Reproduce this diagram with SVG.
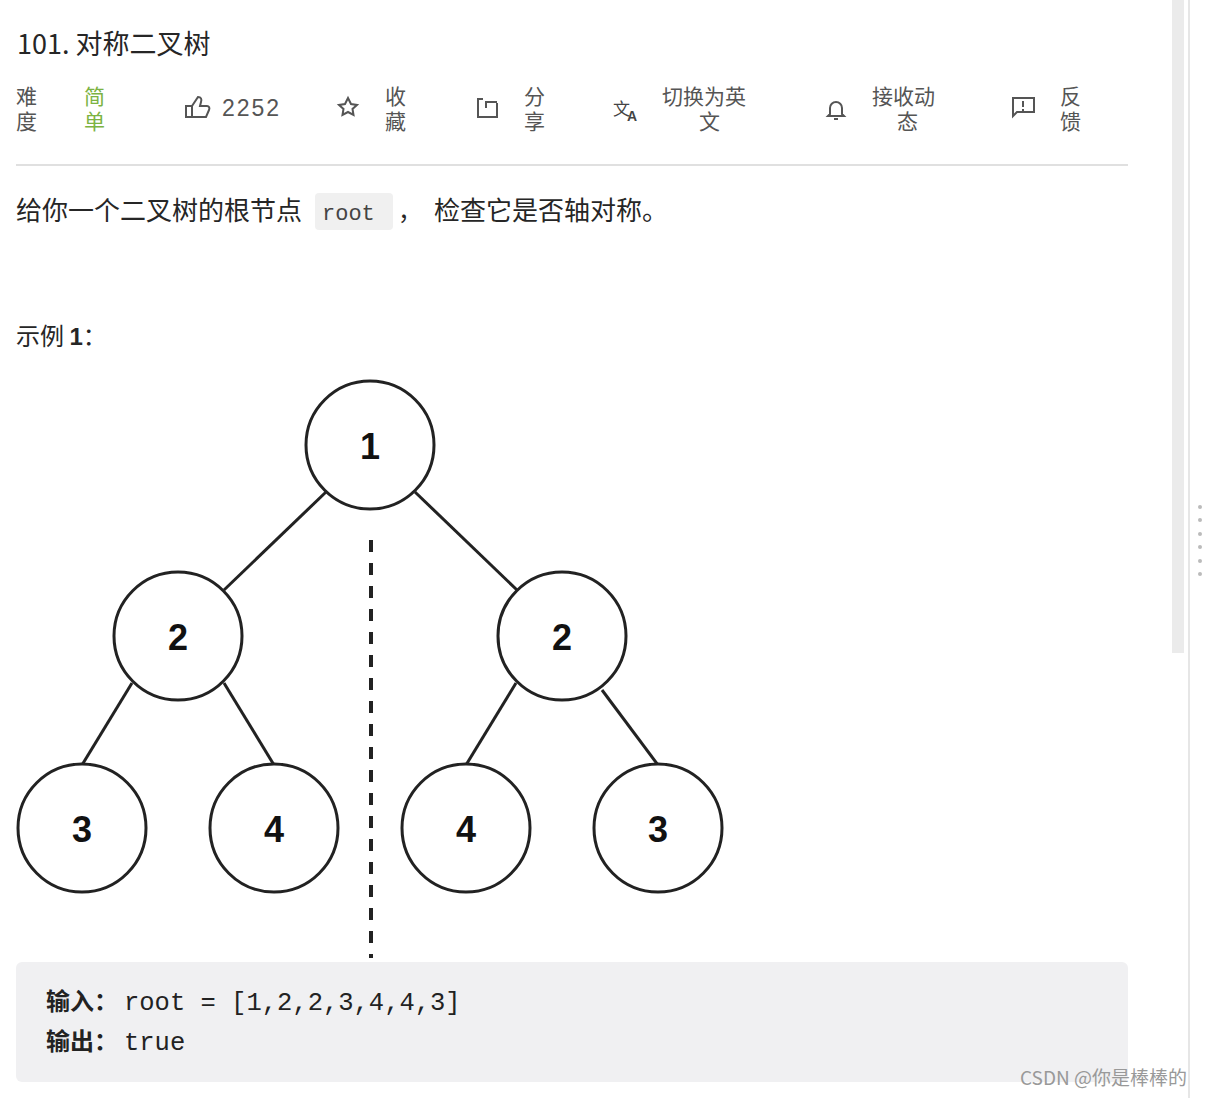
<svg xmlns="http://www.w3.org/2000/svg" width="1206" height="1098" viewBox="0 0 1206 1098">
<style>
.ui{font-family:"Noto Sans CJK SC","Liberation Sans",sans-serif;fill:#555;font-size:21px}
.n circle{fill:#fff;stroke:#222;stroke-width:3}
.n text{font-family:"Liberation Sans",sans-serif;font-weight:bold;font-size:36px;fill:#111;text-anchor:middle}
.ic{fill:none;stroke:#555;stroke-width:2}
.mono{font-family:"Liberation Mono",monospace;font-size:25.5px;fill:#222}
</style>
<rect width="1206" height="1098" fill="#fff"/>
<rect x="1172" y="0" width="12" height="653" fill="#ebebeb"/>
<line x1="1189" y1="0" x2="1189" y2="1098" stroke="#e6e6e6" stroke-width="2"/>
<g fill="#bbb"><circle cx="1200" cy="507" r="2"/><circle cx="1200" cy="520" r="2"/><circle cx="1200" cy="534" r="2"/><circle cx="1200" cy="547" r="2"/><circle cx="1200" cy="561" r="2"/><circle cx="1200" cy="574" r="2"/></g>
<text x="17" y="54" font-family="Noto Sans CJK SC,sans-serif" font-size="27" fill="#262626">101. 对称二叉树</text>
<text class="ui" x="16" y="104">难</text><text class="ui" x="16" y="129">度</text>
<text class="ui" x="84" y="104" style="fill:#7cb342">简</text><text class="ui" x="84" y="129" style="fill:#7cb342">单</text>
<path class="ic" d="M186 117h6v-11h-6zM192 106l6-9c3 0 4 2 3 5l-1 4h7c2 0 3 2 2 4l-3 7h-14"/>
<text x="222" y="116" font-family="Liberation Sans,sans-serif" font-size="23" fill="#555" letter-spacing="2">2252</text>
<path class="ic" d="M348 98l3 6 6 1-4.5 4 1 6-5.5-3-5.5 3 1-6-4.5-4 6-1z"/>
<text class="ui" x="385" y="104">收</text><text class="ui" x="385" y="129">藏</text>
<path class="ic" d="M483 99h-5v18h19v-14M486 108v-6h11"/>
<text class="ui" x="524" y="104">分</text><text class="ui" x="524" y="129">享</text>
<text x="613" y="115" font-family="Noto Sans CJK SC,sans-serif" font-size="17" fill="#444">文</text>
<text x="627" y="121" font-family="Liberation Sans,sans-serif" font-weight="bold" font-size="14" fill="#444">A</text>
<text class="ui" x="662" y="104">切换为英</text><text class="ui" x="699" y="129">文</text>
<path class="ic" d="M830 114v-6a6 6 0 0 1 12 0v6l2 2h-16zM834 119h4"/>
<text class="ui" x="872" y="104">接收动</text><text class="ui" x="897" y="129">态</text>
<path class="ic" d="M1013 98h21v14h-17l-4 4z"/><path d="M1023 101v6M1023 109v2" stroke="#555" stroke-width="2"/>
<text class="ui" x="1060" y="104">反</text><text class="ui" x="1060" y="129">馈</text>
<line x1="16" y1="165" x2="1128" y2="165" stroke="#e0e0e0" stroke-width="2"/>
<text x="16" y="220" font-family="Noto Sans CJK SC,sans-serif" font-size="26" fill="#262626">给你一个二叉树的根节点</text>
<rect x="315" y="193" width="78" height="37" rx="4" fill="#f0f0f0"/>
<text x="322" y="220" font-family="Liberation Mono,monospace" font-size="22" fill="#444">root</text>
<text x="398" y="220" font-family="Noto Sans CJK SC,sans-serif" font-size="24" fill="#262626">，</text>
<text x="434" y="220" font-family="Noto Sans CJK SC,sans-serif" font-size="26" fill="#262626">检查它是否轴对称。</text>
<text x="16" y="345" font-family="Noto Sans CJK SC,sans-serif" font-size="24" fill="#262626">示例 <tspan font-weight="bold" font-family="Liberation Sans,sans-serif">1</tspan>：</text>
<g id="edges" stroke="#222" stroke-width="3">
<line x1="326" y1="492" x2="224" y2="590"/><line x1="415" y1="492" x2="517" y2="590"/>
<line x1="132" y1="683" x2="82" y2="765"/><line x1="224" y1="683" x2="274" y2="765"/>
<line x1="516" y1="683" x2="466" y2="765"/><line x1="602" y1="690" x2="658" y2="765"/>
<line x1="371" y1="540" x2="371" y2="958" stroke-width="4" stroke-dasharray="12 11"/>
</g>
<g id="n1" class="n"><circle cx="370" cy="445" r="64"/><text x="370" y="459">1</text></g>
<g id="n2l" class="n"><circle cx="178" cy="636" r="64"/><text x="178" y="650">2</text></g>
<g id="n2r" class="n"><circle cx="562" cy="636" r="64"/><text x="562" y="650">2</text></g>
<g id="n3a" class="n"><circle cx="82" cy="828" r="64"/><text x="82" y="842">3</text></g>
<g id="n4a" class="n"><circle cx="274" cy="828" r="64"/><text x="274" y="842">4</text></g>
<g id="n4b" class="n"><circle cx="466" cy="828" r="64"/><text x="466" y="842">4</text></g>
<g id="n3b" class="n"><circle cx="658" cy="828" r="64"/><text x="658" y="842">3</text></g>
<rect x="16" y="962" width="1112" height="120" rx="6" fill="#f0f0f2"/>
<text x="46" y="1010" font-family="Noto Sans CJK SC,sans-serif" font-weight="bold" font-size="24" fill="#222">输入：</text>
<text class="mono" x="124" y="1010">root = [1,2,2,3,4,4,3]</text>
<text x="46" y="1050" font-family="Noto Sans CJK SC,sans-serif" font-weight="bold" font-size="24" fill="#222">输出：</text>
<text class="mono" x="124" y="1050">true</text>
<text x="1020" y="1085" font-family="Noto Sans CJK SC,sans-serif" font-size="19" fill="#999">CSDN @你是棒棒的</text>
</svg>
